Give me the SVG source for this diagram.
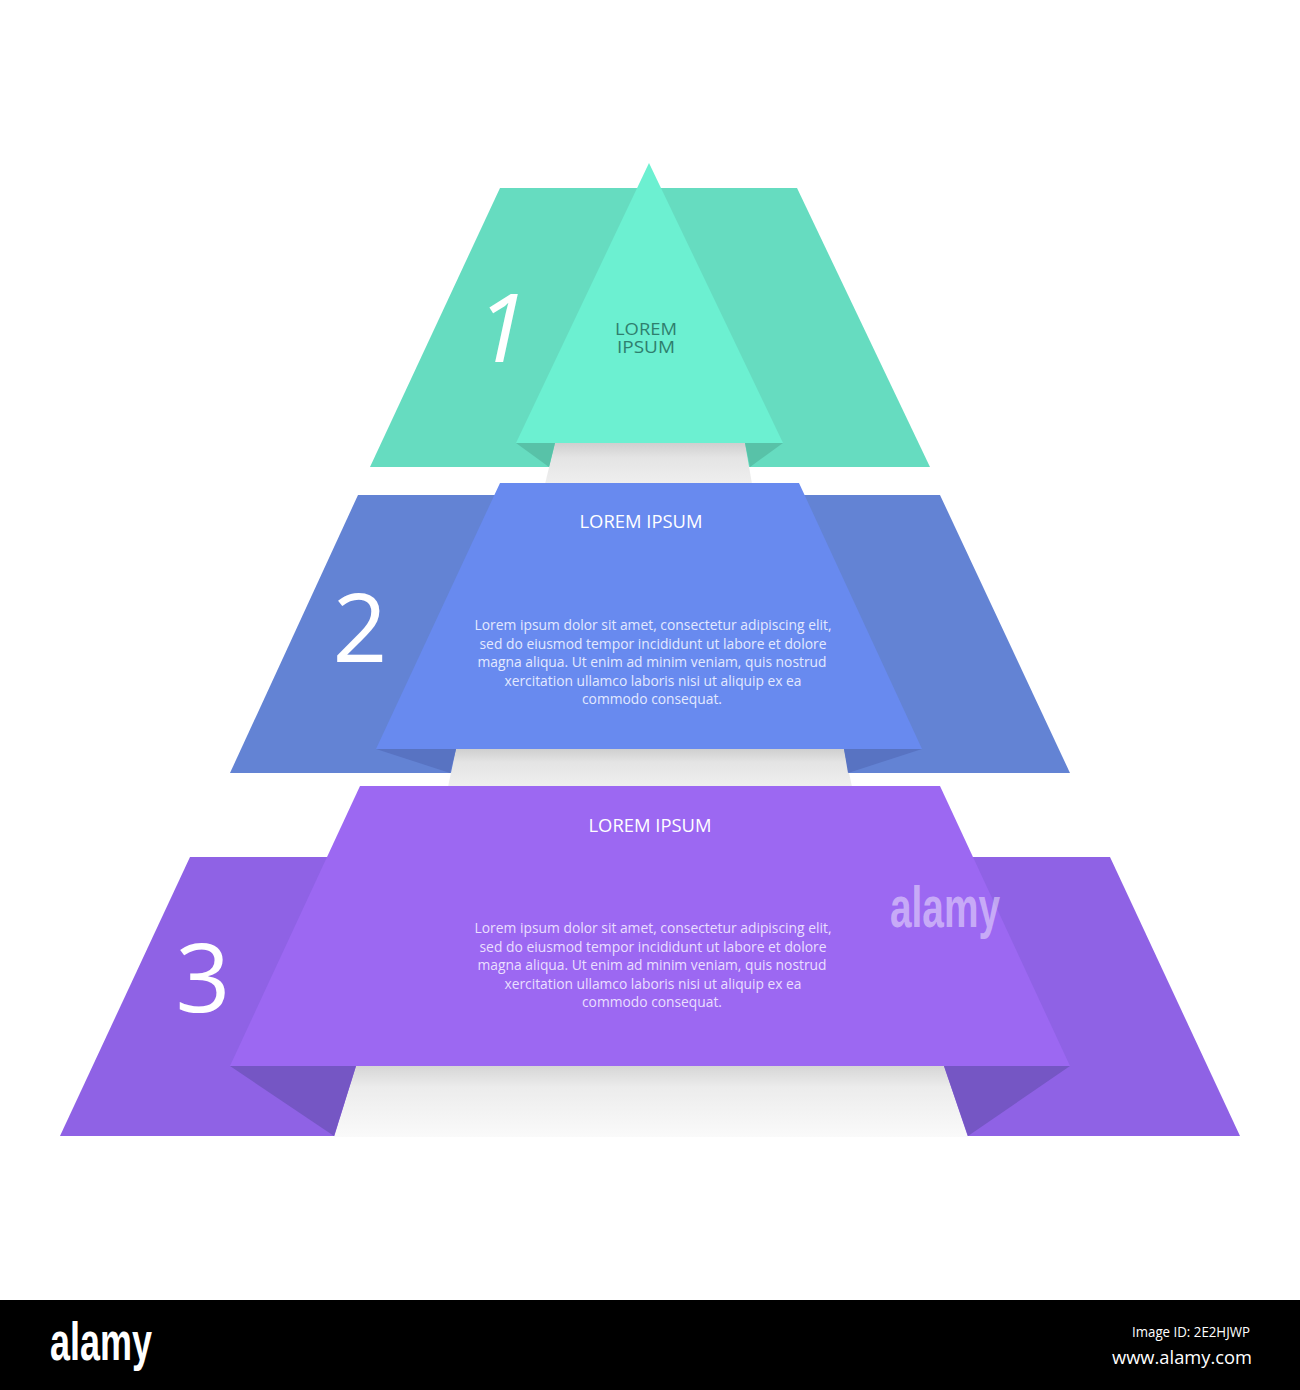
<svg xmlns="http://www.w3.org/2000/svg" width="1300" height="1390" viewBox="0 0 1300 1390">
<style>
.num{font-family:"Open Sans","Liberation Sans",sans-serif;font-size:96px;fill:#ffffff;text-anchor:middle}
.ttl{font-family:"Open Sans","Liberation Sans",sans-serif;font-size:18px;fill:#ffffff;text-anchor:middle}
.body{font-family:"Open Sans","Liberation Sans",sans-serif;font-size:14px;text-anchor:middle}
.b2{fill:#e3e9ff}
.b3{fill:#eadfff}
.wm{font-family:"Liberation Sans",sans-serif;font-weight:bold;font-size:58px;fill:#ffffff;fill-opacity:0.45;text-anchor:middle}
</style>
<defs>
<linearGradient id="g1" x1="0" y1="0" x2="0" y2="1">
<stop offset="0" stop-color="#cfcfcf"/><stop offset="0.35" stop-color="#e4e4e4"/><stop offset="1" stop-color="#efefef"/>
</linearGradient>
<linearGradient id="g3" x1="0" y1="0" x2="0" y2="1">
<stop offset="0" stop-color="#d6d6d6"/><stop offset="0.3" stop-color="#ececec"/><stop offset="1" stop-color="#fafafa"/>
</linearGradient>
</defs>
<rect width="1300" height="1390" fill="#ffffff"/>

<g id="tier1">
<path d="M500,188 L797,188 L930,467 L370,467 Z" fill="#66dcc0"/>
<path d="M555,443 L745,443 L752,484 L545,484 Z" fill="url(#g1)"/>
<path d="M516,443 L555,443 L549,467 Z" fill="#58c2a8"/>
<path d="M745,443 L783,443 L750,467 Z" fill="#58c2a8"/>
<path d="M649,163 L783,443 L516,443 Z" fill="#6cf0d1"/>
<text class="num" x="502" y="362" font-style="italic">1</text>
<text x="646" y="335" font-family="Open Sans, Liberation Sans, sans-serif" font-size="17" fill="#2f7f6e" text-anchor="middle" textLength="62" lengthAdjust="spacingAndGlyphs">LOREM</text>
<text x="646" y="353" font-family="Open Sans, Liberation Sans, sans-serif" font-size="17" fill="#2f7f6e" text-anchor="middle" textLength="58" lengthAdjust="spacingAndGlyphs">IPSUM</text>
</g>

<g id="tier2">
<path d="M358,495 L940,495 L1070,773 L230,773 Z" fill="#6383d4"/>
<path d="M456,749 L844,749 L852,787 L448,787 Z" fill="url(#g1)"/>
<path d="M376,749 L456,749 L450,773 Z" fill="#5873c2"/>
<path d="M844,749 L922,749 L848,773 Z" fill="#5873c2"/>
<path d="M500,483 L799,483 L922,749 L376,749 Z" fill="#688aef"/>
<text class="num" x="360" y="662">2</text>
<text class="ttl" x="641" y="528" textLength="123" lengthAdjust="spacingAndGlyphs">LOREM IPSUM</text>
<g class="body b2">
<text x="653" y="630" textLength="357" lengthAdjust="spacingAndGlyphs">Lorem ipsum dolor sit amet, consectetur adipiscing elit,</text>
<text x="653" y="648.5" textLength="347" lengthAdjust="spacingAndGlyphs">sed do eiusmod tempor incididunt ut labore et dolore</text>
<text x="652" y="667" textLength="349" lengthAdjust="spacingAndGlyphs">magna aliqua. Ut enim ad minim veniam, quis nostrud</text>
<text x="653" y="685.5" textLength="297" lengthAdjust="spacingAndGlyphs">xercitation ullamco laboris nisi ut aliquip ex ea</text>
<text x="652" y="704" textLength="140" lengthAdjust="spacingAndGlyphs">commodo consequat.</text>
</g>
</g>

<g id="tier3">
<path d="M190,857 L1110,857 L1240,1136 L60,1136 Z" fill="#8f62e5"/>
<path d="M356,1066 L944,1066 L968,1137 L334,1137 Z" fill="url(#g3)"/>
<path d="M230,1066 L356,1066 L334,1136 Z" fill="#7556c4"/>
<path d="M944,1066 L1070,1066 L968,1136 Z" fill="#7556c4"/>
<path d="M360,786 L940,786 L1070,1066 L230,1066 Z" fill="#9c68f2"/>
<text class="num" x="203" y="1012">3</text>
<text class="ttl" x="650" y="832" textLength="123" lengthAdjust="spacingAndGlyphs">LOREM IPSUM</text>
<text class="wm" x="945" y="927" textLength="110" lengthAdjust="spacingAndGlyphs">alamy</text>
<g class="body b3">
<text x="653" y="933" textLength="357" lengthAdjust="spacingAndGlyphs">Lorem ipsum dolor sit amet, consectetur adipiscing elit,</text>
<text x="653" y="951.5" textLength="347" lengthAdjust="spacingAndGlyphs">sed do eiusmod tempor incididunt ut labore et dolore</text>
<text x="652" y="970" textLength="349" lengthAdjust="spacingAndGlyphs">magna aliqua. Ut enim ad minim veniam, quis nostrud</text>
<text x="653" y="988.5" textLength="297" lengthAdjust="spacingAndGlyphs">xercitation ullamco laboris nisi ut aliquip ex ea</text>
<text x="652" y="1007" textLength="140" lengthAdjust="spacingAndGlyphs">commodo consequat.</text>
</g>
</g>

<g id="footer">
<rect x="0" y="1300" width="1300" height="90" fill="#000000"/>
<text x="50" y="1360" font-family="Liberation Sans, sans-serif" font-weight="bold" font-size="54" fill="#ffffff" textLength="102" lengthAdjust="spacingAndGlyphs">alamy</text>
<text x="1250" y="1337" font-family="Open Sans, Liberation Sans, sans-serif" font-size="15" fill="#ffffff" text-anchor="end" textLength="118" lengthAdjust="spacingAndGlyphs">Image ID: 2E2HJWP</text>
<text x="1252" y="1364" font-family="Open Sans, Liberation Sans, sans-serif" font-size="18" fill="#ffffff" text-anchor="end" textLength="140" lengthAdjust="spacingAndGlyphs">www.alamy.com</text>
</g>
</svg>
